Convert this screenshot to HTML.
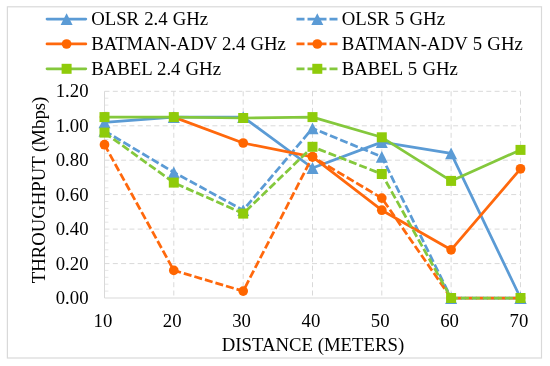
<!DOCTYPE html><html><head><meta charset="utf-8"><title>Throughput chart</title><style>html,body{margin:0;padding:0;background:#fff}svg{display:block}text{font-family:"Liberation Serif","Times New Roman",serif;fill:#000}</style></head><body>
<svg width="550" height="366" viewBox="0 0 550 366">
<rect width="550" height="366" fill="#fff"/>
<rect x="7.4" y="6.8" width="534.1" height="351.2" fill="#fff" stroke="#d9d9d9" stroke-width="1.2"/>
<line x1="104.5" x2="520.5" y1="263.6" y2="263.6" stroke="#d9d9d9" stroke-width="1" stroke-dasharray="5 3.3"/>
<line x1="104.5" x2="520.5" y1="229.1" y2="229.1" stroke="#d9d9d9" stroke-width="1" stroke-dasharray="5 3.3"/>
<line x1="104.5" x2="520.5" y1="194.6" y2="194.6" stroke="#d9d9d9" stroke-width="1" stroke-dasharray="5 3.3"/>
<line x1="104.5" x2="520.5" y1="160.2" y2="160.2" stroke="#d9d9d9" stroke-width="1" stroke-dasharray="5 3.3"/>
<line x1="104.5" x2="520.5" y1="125.8" y2="125.8" stroke="#d9d9d9" stroke-width="1" stroke-dasharray="5 3.3"/>
<line x1="104.5" x2="520.5" y1="91.3" y2="91.3" stroke="#d9d9d9" stroke-width="1" stroke-dasharray="5 3.3"/>
<line x1="173.8" x2="173.8" y1="91.3" y2="298.0" stroke="#d9d9d9" stroke-width="1" stroke-dasharray="5 3.3"/>
<line x1="243.2" x2="243.2" y1="91.3" y2="298.0" stroke="#d9d9d9" stroke-width="1" stroke-dasharray="5 3.3"/>
<line x1="312.5" x2="312.5" y1="91.3" y2="298.0" stroke="#d9d9d9" stroke-width="1" stroke-dasharray="5 3.3"/>
<line x1="381.8" x2="381.8" y1="91.3" y2="298.0" stroke="#d9d9d9" stroke-width="1" stroke-dasharray="5 3.3"/>
<line x1="451.1" x2="451.1" y1="91.3" y2="298.0" stroke="#d9d9d9" stroke-width="1" stroke-dasharray="5 3.3"/>
<line x1="520.5" x2="520.5" y1="91.3" y2="298.0" stroke="#d9d9d9" stroke-width="1" stroke-dasharray="5 3.3"/>
<line x1="104.5" x2="104.5" y1="91.3" y2="298.0" stroke="#d9d9d9" stroke-width="1"/>
<line x1="104.5" x2="520.5" y1="298.0" y2="298.0" stroke="#d9d9d9" stroke-width="1"/>
<line x1="104.5" x2="108.4" y1="291.1" y2="291.1" stroke="#dedede" stroke-width="0.75"/>
<line x1="104.5" x2="108.4" y1="284.2" y2="284.2" stroke="#dedede" stroke-width="0.75"/>
<line x1="104.5" x2="108.4" y1="277.3" y2="277.3" stroke="#dedede" stroke-width="0.75"/>
<line x1="104.5" x2="108.4" y1="270.4" y2="270.4" stroke="#dedede" stroke-width="0.75"/>
<line x1="104.5" x2="108.4" y1="256.7" y2="256.7" stroke="#dedede" stroke-width="0.75"/>
<line x1="104.5" x2="108.4" y1="249.8" y2="249.8" stroke="#dedede" stroke-width="0.75"/>
<line x1="104.5" x2="108.4" y1="242.9" y2="242.9" stroke="#dedede" stroke-width="0.75"/>
<line x1="104.5" x2="108.4" y1="236.0" y2="236.0" stroke="#dedede" stroke-width="0.75"/>
<line x1="104.5" x2="108.4" y1="222.2" y2="222.2" stroke="#dedede" stroke-width="0.75"/>
<line x1="104.5" x2="108.4" y1="215.3" y2="215.3" stroke="#dedede" stroke-width="0.75"/>
<line x1="104.5" x2="108.4" y1="208.4" y2="208.4" stroke="#dedede" stroke-width="0.75"/>
<line x1="104.5" x2="108.4" y1="201.5" y2="201.5" stroke="#dedede" stroke-width="0.75"/>
<line x1="104.5" x2="108.4" y1="187.8" y2="187.8" stroke="#dedede" stroke-width="0.75"/>
<line x1="104.5" x2="108.4" y1="180.9" y2="180.9" stroke="#dedede" stroke-width="0.75"/>
<line x1="104.5" x2="108.4" y1="174.0" y2="174.0" stroke="#dedede" stroke-width="0.75"/>
<line x1="104.5" x2="108.4" y1="167.1" y2="167.1" stroke="#dedede" stroke-width="0.75"/>
<line x1="104.5" x2="108.4" y1="153.3" y2="153.3" stroke="#dedede" stroke-width="0.75"/>
<line x1="104.5" x2="108.4" y1="146.4" y2="146.4" stroke="#dedede" stroke-width="0.75"/>
<line x1="104.5" x2="108.4" y1="139.5" y2="139.5" stroke="#dedede" stroke-width="0.75"/>
<line x1="104.5" x2="108.4" y1="132.6" y2="132.6" stroke="#dedede" stroke-width="0.75"/>
<line x1="104.5" x2="108.4" y1="118.9" y2="118.9" stroke="#dedede" stroke-width="0.75"/>
<line x1="104.5" x2="108.4" y1="112.0" y2="112.0" stroke="#dedede" stroke-width="0.75"/>
<line x1="104.5" x2="108.4" y1="105.1" y2="105.1" stroke="#dedede" stroke-width="0.75"/>
<line x1="104.5" x2="108.4" y1="98.2" y2="98.2" stroke="#dedede" stroke-width="0.75"/>
<polyline points="104.5,122.3 173.8,117.1 243.2,117.1 312.5,168.0 381.8,142.1 451.1,153.3 520.5,298.0" fill="none" stroke="#5b9bd5" stroke-width="2.75" stroke-linejoin="round" stroke-linecap="butt"/>
<polygon points="104.5,116.4 110.5,128.2 98.5,128.2" fill="#5b9bd5"/>
<polygon points="173.8,111.2 179.8,123.0 167.8,123.0" fill="#5b9bd5"/>
<polygon points="243.2,111.2 249.2,123.0 237.2,123.0" fill="#5b9bd5"/>
<polygon points="312.5,162.1 318.5,173.9 306.5,173.9" fill="#5b9bd5"/>
<polygon points="381.8,136.2 387.8,148.0 375.8,148.0" fill="#5b9bd5"/>
<polygon points="451.1,147.4 457.1,159.2 445.1,159.2" fill="#5b9bd5"/>
<polygon points="520.5,292.1 526.5,303.9 514.5,303.9" fill="#5b9bd5"/>
<polyline points="104.5,130.9 173.8,172.3 243.2,210.2 312.5,128.3 381.8,156.8 451.1,298.0 520.5,298.0" fill="none" stroke="#5b9bd5" stroke-width="2.75" stroke-linejoin="round" stroke-linecap="butt" stroke-dasharray="8 3"/>
<polygon points="104.5,125.0 110.5,136.8 98.5,136.8" fill="#5b9bd5"/>
<polygon points="173.8,166.4 179.8,178.2 167.8,178.2" fill="#5b9bd5"/>
<polygon points="243.2,204.3 249.2,216.1 237.2,216.1" fill="#5b9bd5"/>
<polygon points="312.5,122.4 318.5,134.2 306.5,134.2" fill="#5b9bd5"/>
<polygon points="381.8,150.9 387.8,162.7 375.8,162.7" fill="#5b9bd5"/>
<polygon points="451.1,292.1 457.1,303.9 445.1,303.9" fill="#5b9bd5"/>
<polygon points="520.5,292.1 526.5,303.9 514.5,303.9" fill="#5b9bd5"/>
<polyline points="173.8,117.1 243.2,143.0 312.5,156.8 381.8,210.2 451.1,249.8 520.5,168.8" fill="none" stroke="#ff680c" stroke-width="2.75" stroke-linejoin="round" stroke-linecap="butt"/>
<circle cx="104.5" cy="117.1" r="4.85" fill="#ff6600"/>
<circle cx="173.8" cy="117.1" r="4.85" fill="#ff6600"/>
<circle cx="243.2" cy="143.0" r="4.85" fill="#ff6600"/>
<circle cx="312.5" cy="156.8" r="4.85" fill="#ff6600"/>
<circle cx="381.8" cy="210.2" r="4.85" fill="#ff6600"/>
<circle cx="451.1" cy="249.8" r="4.85" fill="#ff6600"/>
<circle cx="520.5" cy="168.8" r="4.85" fill="#ff6600"/>
<polyline points="104.5,144.7 173.8,270.4 243.2,291.1 312.5,156.8 381.8,198.1 451.1,298.0 520.5,298.0" fill="none" stroke="#ff680c" stroke-width="2.75" stroke-linejoin="round" stroke-linecap="butt" stroke-dasharray="8 3"/>
<circle cx="104.5" cy="144.7" r="4.85" fill="#ff6600"/>
<circle cx="173.8" cy="270.4" r="4.85" fill="#ff6600"/>
<circle cx="243.2" cy="291.1" r="4.85" fill="#ff6600"/>
<circle cx="312.5" cy="156.8" r="4.85" fill="#ff6600"/>
<circle cx="381.8" cy="198.1" r="4.85" fill="#ff6600"/>
<circle cx="451.1" cy="298.0" r="4.85" fill="#ff6600"/>
<circle cx="520.5" cy="298.0" r="4.85" fill="#ff6600"/>
<polyline points="104.5,117.1 173.8,117.1 243.2,118.0 312.5,117.1 381.8,137.3 451.1,180.9 520.5,149.9" fill="none" stroke="#84c83c" stroke-width="2.75" stroke-linejoin="round" stroke-linecap="butt"/>
<rect x="99.5" y="112.1" width="10.0" height="10.0" fill="#8fcb0a"/>
<rect x="168.8" y="112.1" width="10.0" height="10.0" fill="#8fcb0a"/>
<rect x="238.2" y="113.0" width="10.0" height="10.0" fill="#8fcb0a"/>
<rect x="307.5" y="112.1" width="10.0" height="10.0" fill="#8fcb0a"/>
<rect x="376.8" y="132.3" width="10.0" height="10.0" fill="#8fcb0a"/>
<rect x="446.1" y="175.9" width="10.0" height="10.0" fill="#8fcb0a"/>
<rect x="515.5" y="144.9" width="10.0" height="10.0" fill="#8fcb0a"/>
<polyline points="104.5,132.6 173.8,182.6 243.2,213.6 312.5,146.8 381.8,174.0 451.1,298.0 520.5,298.0" fill="none" stroke="#84c83c" stroke-width="2.75" stroke-linejoin="round" stroke-linecap="butt" stroke-dasharray="8 3"/>
<rect x="99.5" y="127.6" width="10.0" height="10.0" fill="#8fcb0a"/>
<rect x="168.8" y="177.6" width="10.0" height="10.0" fill="#8fcb0a"/>
<rect x="238.2" y="208.6" width="10.0" height="10.0" fill="#8fcb0a"/>
<rect x="307.5" y="141.8" width="10.0" height="10.0" fill="#8fcb0a"/>
<rect x="376.8" y="169.0" width="10.0" height="10.0" fill="#8fcb0a"/>
<rect x="446.1" y="293.0" width="10.0" height="10.0" fill="#8fcb0a"/>
<rect x="515.5" y="293.0" width="10.0" height="10.0" fill="#8fcb0a"/>
<text x="88.5" y="304.0" font-size="18.75" text-anchor="end">0.00</text>
<text x="88.5" y="269.6" font-size="18.75" text-anchor="end">0.20</text>
<text x="88.5" y="235.1" font-size="18.75" text-anchor="end">0.40</text>
<text x="88.5" y="200.6" font-size="18.75" text-anchor="end">0.60</text>
<text x="88.5" y="166.2" font-size="18.75" text-anchor="end">0.80</text>
<text x="88.5" y="131.8" font-size="18.75" text-anchor="end">1.00</text>
<text x="88.5" y="97.3" font-size="18.75" text-anchor="end">1.20</text>
<text x="102.9" y="327.2" font-size="18.75" text-anchor="middle">10</text>
<text x="172.2" y="327.2" font-size="18.75" text-anchor="middle">20</text>
<text x="241.6" y="327.2" font-size="18.75" text-anchor="middle">30</text>
<text x="310.9" y="327.2" font-size="18.75" text-anchor="middle">40</text>
<text x="380.2" y="327.2" font-size="18.75" text-anchor="middle">50</text>
<text x="449.5" y="327.2" font-size="18.75" text-anchor="middle">60</text>
<text x="518.9" y="327.2" font-size="18.75" text-anchor="middle">70</text>
<text x="313.0" y="351.0" font-size="18.75" text-anchor="middle">DISTANCE (METERS)</text>
<text transform="translate(44.6,190.0) rotate(-90)" font-size="18.75" text-anchor="middle">THROUGHPUT (Mbps)</text>
<line x1="47.0" x2="85.8" y1="19.1" y2="19.1" stroke="#5b9bd5" stroke-width="2.75" stroke-linecap="round"/>
<polygon points="66.6,13.2 72.6,25.0 60.6,25.0" fill="#5b9bd5"/>
<text x="91.2" y="24.9" font-size="18.75" word-spacing="0.4">OLSR 2.4 GHz</text>
<line x1="296.5" x2="337.7" y1="19.1" y2="19.1" stroke="#5b9bd5" stroke-width="2.75" stroke-linecap="butt" stroke-dasharray="8 3"/>
<polygon points="317.3,13.2 323.3,25.0 311.3,25.0" fill="#5b9bd5"/>
<text x="341.7" y="24.9" font-size="18.75" word-spacing="0.6">OLSR 5 GHz</text>
<line x1="47.0" x2="85.8" y1="43.95" y2="43.95" stroke="#ff680c" stroke-width="2.75" stroke-linecap="round"/>
<circle cx="66.6" cy="44.0" r="4.85" fill="#ff6600"/>
<text x="91.2" y="49.8" font-size="18.75" word-spacing="0.4">BATMAN-ADV 2.4 GHz</text>
<line x1="296.5" x2="337.7" y1="43.95" y2="43.95" stroke="#ff680c" stroke-width="2.75" stroke-linecap="butt" stroke-dasharray="8 3"/>
<circle cx="317.3" cy="44.0" r="4.85" fill="#ff6600"/>
<text x="341.7" y="49.8" font-size="18.75" word-spacing="0.6">BATMAN-ADV 5 GHz</text>
<line x1="47.0" x2="85.8" y1="68.8" y2="68.8" stroke="#84c83c" stroke-width="2.75" stroke-linecap="round"/>
<rect x="61.6" y="63.8" width="10.0" height="10.0" fill="#8fcb0a"/>
<text x="91.2" y="74.6" font-size="18.75" word-spacing="0.4">BABEL 2.4 GHz</text>
<line x1="296.5" x2="337.7" y1="68.8" y2="68.8" stroke="#84c83c" stroke-width="2.75" stroke-linecap="butt" stroke-dasharray="8 3"/>
<rect x="312.3" y="63.8" width="10.0" height="10.0" fill="#8fcb0a"/>
<text x="341.7" y="74.6" font-size="18.75" word-spacing="0.6">BABEL 5 GHz</text>
</svg></body></html>
